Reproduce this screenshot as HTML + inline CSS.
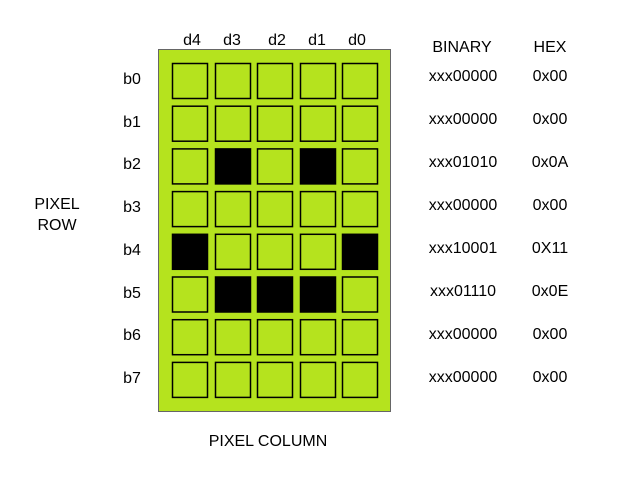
<!DOCTYPE html>
<html><head><style>
body{margin:0;background:#fff;}
svg text{font-family:"Liberation Sans",sans-serif;font-size:16px;fill:#000;}
</style></head><body>
<svg width="640" height="480" xmlns="http://www.w3.org/2000/svg">
<rect x="158.5" y="49.5" width="232" height="362" fill="#b5e31e" stroke="#666" stroke-width="1"/>
<g text-anchor="middle">
<text x="192" y="45">d4</text><text x="232" y="45">d3</text><text x="277" y="45">d2</text><text x="317" y="45">d1</text><text x="357" y="45">d0</text>
<text x="132" y="84">b0</text><text x="132" y="127">b1</text><text x="132" y="169">b2</text><text x="132" y="212">b3</text>
<text x="132" y="255">b4</text><text x="132" y="298">b5</text><text x="132" y="340">b6</text><text x="132" y="383">b7</text>
<text x="57" y="209">PIXEL</text><text x="57" y="230">ROW</text>
<text x="462" y="52">BINARY</text><text x="550" y="52">HEX</text>
<text x="463" y="81">xxx00000</text><text x="550" y="81">0x00</text>
<text x="463" y="124">xxx00000</text><text x="550" y="124">0x00</text>
<text x="463" y="167">xxx01010</text><text x="550" y="167">0x0A</text>
<text x="463" y="210">xxx00000</text><text x="550" y="210">0x00</text>
<text x="463" y="253">xxx10001</text><text x="550" y="253">0X11</text>
<text x="463" y="296">xxx01110</text><text x="550" y="296">0x0E</text>
<text x="463" y="339">xxx00000</text><text x="550" y="339">0x00</text>
<text x="463" y="382">xxx00000</text><text x="550" y="382">0x00</text>
<text x="268" y="446">PIXEL COLUMN</text>
</g>
<g id="cells" stroke="#000" stroke-width="1.5"></g>
</svg>
<script>
var on={2:[1,3],4:[0,4],5:[1,2,3]};
var xs=[172.5,215.5,257.5,300.5,342.5];
var g=document.getElementById('cells'),s='';
for(var r=0;r<8;r++){var y=63.5+r*42.7;for(var c=0;c<5;c++){var f=(on[r]&&on[r].indexOf(c)>=0)?'#000':'none';
s+='<rect x="'+xs[c]+'" y="'+y.toFixed(1)+'" width="35" height="35" fill="'+f+'"/>';}}
g.innerHTML=s;
</script>
</body></html>
